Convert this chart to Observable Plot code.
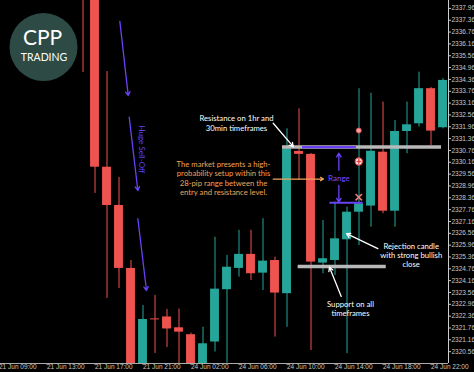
<!DOCTYPE html>
<html><head><meta charset="utf-8">
<script src="https://cdn.jsdelivr.net/npm/d3@7"></script>
<script src="https://cdn.jsdelivr.net/npm/@observablehq/plot@0.6"></script>
<style>html,body{margin:0;padding:0;background:#000;overflow:hidden}</style>
</head><body><div id="chart"></div>
<script>
// ---- candle data (XAUUSD H1) ----
const times = ["21 Jun 16:00","21 Jun 17:00","21 Jun 18:00","21 Jun 19:00","21 Jun 20:00","21 Jun 21:00","21 Jun 22:00","21 Jun 23:00",
  "24 Jun 01:00","24 Jun 02:00","24 Jun 03:00","24 Jun 04:00","24 Jun 05:00","24 Jun 06:00","24 Jun 07:00","24 Jun 08:00",
  "24 Jun 09:00","24 Jun 10:00","24 Jun 11:00","24 Jun 12:00","24 Jun 13:00","24 Jun 14:00","24 Jun 15:00","24 Jun 16:00",
  "24 Jun 17:00","24 Jun 18:00","24 Jun 19:00","24 Jun 20:00","24 Jun 21:00","24 Jun 22:00","24 Jun 23:00"];
const opens  = [2339.80,2339.20,2329.91,2327.97,2324.78,2319.75,2322.22,2322.32,2321.77,2321.42,2319.85,2321.05,2323.70,2324.78,2325.49,2324.54,
  2325.18,2323.50,2330.71,2330.56,2325.05,2325.18,2326.23,2327.63,2327.94,2330.67,2327.68,2331.72,2332.11,2333.89,2331.91];
const highs  = [2340.20,2339.60,2334.76,2329.39,2325.18,2322.90,2323.41,2322.70,2322.72,2321.50,2321.80,2326.36,2325.44,2326.71,2326.71,2327.30,
  2325.35,2331.86,2332.87,2330.60,2327.21,2328.14,2327.89,2333.89,2333.66,2333.21,2332.28,2333.21,2334.73,2333.95,2334.40];
const lows   = [2334.71,2328.58,2323.26,2323.76,2319.50,2319.40,2320.47,2320.77,2319.60,2319.50,2319.60,2320.54,2319.98,2324.34,2324.17,2323.66,
  2321.30,2321.80,2329.24,2320.62,2324.51,2324.42,2320.46,2325.94,2326.87,2327.55,2326.87,2330.59,2331.94,2331.01,2331.85];
const closes = [2338.90,2329.91,2327.97,2324.78,2319.70,2322.19,2322.17,2321.71,2321.55,2319.80,2320.96,2323.73,2324.84,2325.49,2324.51,2325.15,
  2323.53,2330.84,2330.56,2325.10,2325.27,2326.28,2327.63,2328.06,2330.72,2327.68,2331.72,2332.06,2333.89,2331.74,2334.31];

// ---- axis ticks ----
const yTicks = [2320.56,2321.16,2321.76,2322.36,2322.96,2323.56,2324.16,2324.76,2325.36,2325.96,2326.56,2327.16,2327.76,2328.36,2328.96,
  2329.56,2330.16,2330.76,2331.36,2331.96,2332.56,2333.16,2333.76,2334.36,2334.96,2335.56,2336.16,2336.76,2337.36,2337.96];
const xTickIdx = [-7,-3,1,5,9,13,17,21,25,29];
const xTickLabels = ["21 Jun 09:00","21 Jun 13:00","21 Jun 17:00","21 Jun 21:00","24 Jun 02:00","24 Jun 06:00","24 Jun 10:00","24 Jun 14:00","24 Jun 18:00","24 Jun 22:00"];

// ---- annotation texts ----
const txtResistance = "Resistance on 1hr and\n30min timeframes";
const txtSetup = "The market presents a high-\nprobability setup within this\n28-pip range between the\nentry and resistance level.";
const txtRejection = "Rejection candle\nwith strong bullish\nclose";
const txtSupport = "Support on all\ntimeframes";
const txtSellOff = "Huge Sell-Off";
const txtRange = "Range";

// ---- annotation anchors in data units (candle index, price) ----
const resistanceLevel = 2330.93, supportLevel = 2324.88, entryLevel = 2328.11;
const sellOffArrows = [
  {x1:3.07,y1:2337.30,x2:3.77,y2:2333.54},
  {x1:3.85,y1:2332.45,x2:4.57,y2:2328.73},
  {x1:4.57,y1:2327.30,x2:5.29,y2:2323.66}];
const whiteArrows = [
  {x1:15.85,y1:2332.14,x2:17.52,y2:2330.95},
  {x1:24.57,y1:2325.78,x2:21.96,y2:2326.54},
  {x1:21.52,y1:2323.36,x2:20.54,y2:2324.84}];
const rangeArrows = [
  {x1:21.32,y1:2329.75,x2:21.32,y2:2330.62},
  {x1:21.32,y1:2328.99,x2:21.32,y2:2328.14}];

const candles = times.map((t,i)=>({i, t, o:opens[i], h:highs[i], l:lows[i], c:closes[i]}));
const UP="#26a69a", DN="#ef5350";
const col = d => d.c >= d.o ? UP : DN;
const X0 = -6.875, X1 = 30.458, Y0 = 2319.96, Y1 = 2338.36;
const PURPLE = "#6a42f5", ORANGE = "#f2a25a", GRAY = "#b9b9b9";
const FONT = "Lato, 'Open Sans', sans-serif";

const chart = Plot.plot({
  width: 474, height: 372,
  marginLeft: 0, marginRight: 26, marginTop: 0, marginBottom: 9,
  style: {background: "#000", color: "#c8c8c8", fontSize: "6.5px", fontFamily: "'Liberation Sans', Arial, sans-serif"},
  x: {type: "linear", domain: [X0, X1], axis: null},
  y: {domain: [Y0, Y1], axis: "right", ticks: yTicks, tickFormat: d => d.toFixed(2), tickSize: 2, tickPadding: 1, label: null},
  marks: [
    // logo
    Plot.dot([0], {x: -3.29, y: 2336.0, r: 34, fill: "#2d4b44"}),
    Plot.text(["CPP"], {x: -3.375, y: 2336.45, text: d=>d, fill: "#fff", fontSize: 21, fontFamily: FONT}),
    Plot.text(["TRADING"], {x: -3.25, y: 2335.45, text: d=>d, fill: "#fff", fontSize: 10.5, fontFamily: FONT}),
    // candles
    Plot.ruleX(candles, {x: "i", y1: "l", y2: "h", stroke: col, strokeWidth: 1, clip: true}),
    Plot.rect(candles, {x1: d=>d.i-0.37, x2: d=>d.i+0.37, y1: "o", y2: "c", fill: col, clip: true}),
    // axes lines
    Plot.ruleY([Y0], {stroke: "#aaa", strokeWidth: 1}),
    Plot.ruleX([X1], {stroke: "#ccc", strokeWidth: 1}),
    Plot.ruleX(xTickIdx, {x: d=>d, y1: Y0, y2: Y0-0.1, stroke: "#aaa"}),
    Plot.text(xTickIdx, {x: d=>d, frameAnchor: "bottom", dy: 5, text: (d,i)=>xTickLabels[i], textAnchor: "start", fill: "#c8c8c8", fontSize: 6.5}),
    // levels
    Plot.ruleY([resistanceLevel], {x1: 16.625, x2: 29.875, stroke: GRAY, strokeWidth: 3.5}),
    Plot.ruleY([resistanceLevel], {x1: 18.29, x2: 22.79, stroke: PURPLE, strokeWidth: 2.2}),
    Plot.ruleY([supportLevel], {x1: 17.93, x2: 25.27, stroke: GRAY, strokeWidth: 3.5}),
    Plot.ruleY([entryLevel], {x1: 20.57, x2: 23.35, stroke: PURPLE, strokeWidth: 2}),
    // sell-off arrows
    Plot.arrow(sellOffArrows, {x1:"x1", y1:"y1", x2:"x2", y2:"y2", stroke: PURPLE, strokeWidth: 1.3, headLength: 5}),
    Plot.text([txtSellOff], {x: 4.92, y: 2330.81, text: d=>d, rotate: 90, fill: PURPLE, fontSize: 8, fontFamily: FONT}),
    // range
    Plot.arrow(rangeArrows, {x1:"x1", y1:"y1", x2:"x2", y2:"y2", stroke: PURPLE, strokeWidth: 1.3, headLength: 5}),
    Plot.text([txtRange], {x: 21.32, y: 2329.35, text: d=>d, fill: PURPLE, fontSize: 8, fontWeight: 600, fontFamily: FONT}),
    // orange setup text + arrow
    Plot.text([txtSetup], {x: 11.71, y: 2329.36, text: d=>d, fill: ORANGE, fontSize: 7.7, lineHeight: 1.23, fontFamily: FONT}),
    Plot.arrow([0], {x1: 15.85, y1: 2329.31, x2: 20.04, y2: 2329.31, stroke: ORANGE, strokeWidth: 1.3, headLength: 4}),
    // white notes
    Plot.text([txtResistance], {x: 12.79, y: 2332.16, text: d=>d, fill: "#fff", fontSize: 7.7, lineHeight: 1.23, fontFamily: FONT}),
    Plot.text([txtRejection], {x: 27.35, y: 2325.46, text: d=>d, fill: "#fff", fontSize: 7.7, lineHeight: 1.23, fontFamily: FONT}),
    Plot.text([txtSupport], {x: 22.29, y: 2322.75, text: d=>d, fill: "#fff", fontSize: 7.7, lineHeight: 1.23, fontFamily: FONT}),
    Plot.arrow(whiteArrows, {x1:"x1", y1:"y1", x2:"x2", y2:"y2", stroke: "#fff", strokeWidth: 1.3, headLength: 5}),
    // trade markers
    Plot.dot([2331.77], {x: 22.98, y: d=>d, r: 2.5, fill: "#f3a0a0", stroke: "#e05050", strokeWidth: 1}),
    Plot.dot([2330.20], {x: 22.98, y: d=>d, r: 3.6, fill: "#fff", stroke: "#e04848", strokeWidth: 1.2}),
    Plot.dot([2330.20], {x: 22.98, y: d=>d, r: 2, symbol: "cross", fill: "#e04848"}),
    Plot.dot([2328.39], {x: 22.98, y: d=>d, r: 3, symbol: "times", stroke: "#f08080", strokeWidth: 1.5})
  ]
});
document.getElementById("chart").append(chart);
</script>
</body></html>
